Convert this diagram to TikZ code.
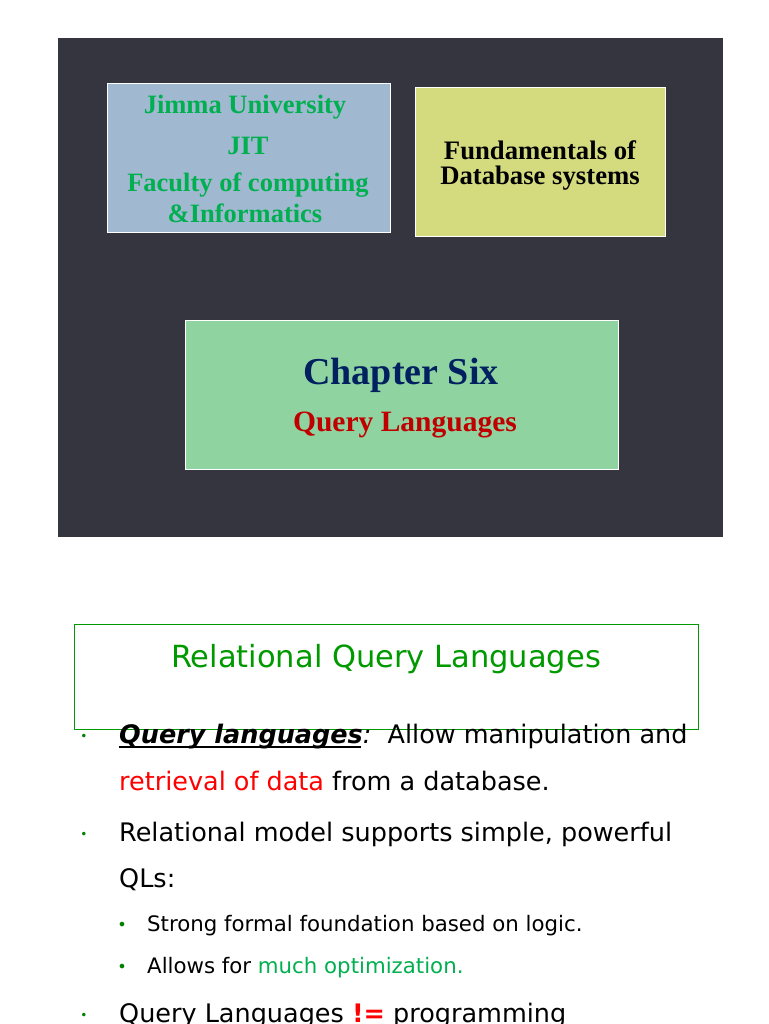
\documentclass[tikz,border=0pt]{standalone}
\usepackage{fontspec}
\setmainfont{Liberation Serif}
\newfontfamily\dv{DejaVu Sans}
\begin{document}
\begin{tikzpicture}[x=1pt,y=-1pt,
  box/.style={draw=white,line width=0.8pt},
  ser/.style={font=\fontsize{26.5}{28}\selectfont\bfseries,inner sep=0pt,align=center},
  body/.style={anchor=base west,inner sep=0pt,font=\dv\fontsize{25.5}{28}\selectfont},
  sub/.style={anchor=base west,inner sep=0pt,font=\dv\fontsize{21.3}{24}\selectfont},
  bul/.style={anchor=base,inner sep=0pt,text=green!50!black,font=\dv\fontsize{12}{14}\selectfont}]
\definecolor{dark}{HTML}{353540}
\definecolor{bl}{HTML}{A0B8D0}
\definecolor{yl}{HTML}{D4DA7E}
\definecolor{gr}{HTML}{8FD3A0}
\definecolor{tg}{HTML}{00B050}
\definecolor{nv}{HTML}{002060}
\definecolor{rd}{HTML}{C00000}
\definecolor{tg2}{HTML}{009900}
\useasboundingbox (0,0) rectangle (768,1024);
\fill[white] (0,0) rectangle (768,1024);
\fill[dark] (58,38) rectangle (723,537);
\draw[box,fill=bl] (107,83) rectangle (390,232);
\draw[box,fill=yl] (415,87) rectangle (665,236);
\draw[box,fill=gr] (185,320) rectangle (618,469);
\node[ser,text=tg] (j1) at (245,107) {Jimma University};
\node[ser,text=tg] (j2) at (248,146) {JIT};
\node[ser,text=tg] (j3) at (248,185) {Faculty of computing};
\node[ser,text=tg] (j4) at (245,213) {\&Informatics};
\node[ser,font=\fontsize{26.7}{28}\selectfont\bfseries] (f1) at (540,150) {Fundamentals of};
\node[ser,font=\fontsize{26.7}{28}\selectfont\bfseries] (f2) at (540,178) {Database systems};
\node[ser,text=nv,font=\fontsize{38}{40}\selectfont\bfseries] (c1) at (401,375) {Chapter Six};
\node[ser,text=rd,font=\fontsize{29.5}{31}\selectfont\bfseries] (c2) at (405,425) {Query Languages};
\draw[tg2,line width=0.6pt] (74,624) rectangle (698,729);
\node[inner sep=0pt,text=tg2,font=\dv\fontsize{30.5}{34}\selectfont] (t) at (386,659) {Relational Query Languages};
\node[bul] (b1) at (84,740) {\textbullet};
\node[body] (l1) at (119,743) {\textbf{\textit{Query languages}}\textit{:}\ \ Allow manipulation and};
\draw[line width=1.2pt] (119,747) -- (361,747);
\node[body] (l2) at (119,790) {\textcolor{red}{retrieval of data} from a database.};
\node[bul] (b2) at (84,838) {\textbullet};
\node[body] (l3) at (119,841) {Relational model supports simple, powerful};
\node[body] (l4) at (119,887) {QLs:};
\node[bul,font=\dv\fontsize{16}{18}\selectfont] (b3) at (122,930) {\textbullet};
\node[sub] (s1) at (147,931) {Strong formal foundation based on logic.};
\node[bul,font=\dv\fontsize{16}{18}\selectfont] (b4) at (122,972) {\textbullet};
\node[sub] (s2) at (147,973) {Allows for \textcolor{tg}{much optimization.}};
\node[bul] (b5) at (84,1019) {\textbullet};
\node[body] (l5) at (119,1022) {Query Languages \textcolor{red}{\textbf{!=}} programming};
\end{tikzpicture}
\end{document}
